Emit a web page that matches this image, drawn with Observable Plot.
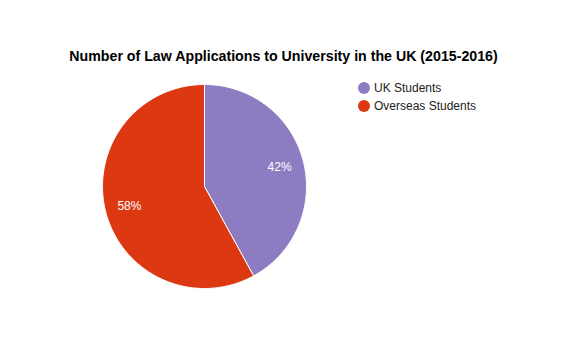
<!DOCTYPE html>
<html>
<head>
<meta charset="utf-8">
<script src="https://cdn.jsdelivr.net/npm/d3@7"></script>
<script src="https://cdn.jsdelivr.net/npm/@observablehq/plot@0.6"></script>
<style>
  body { margin: 0; background: #fff; font-family: Arial, "Liberation Sans", sans-serif; }
  #wrap { position: relative; width: 567px; height: 344px; overflow: hidden; }
  #title { height: 75px; width: 567px; box-sizing: border-box; padding-top: 48px; padding-left: 0px;
           text-align: center; font-weight: bold; font-size: 14.2px; color: #000; line-height: 17px; }
  #legend { position: absolute; left: 358px; top: 81px; font-size: 12px; color: #222; }
  .item { position: relative; height: 18px; line-height: 14px; }
  .sw { position: absolute; left: 0; top: 1px; width: 12px; height: 12px; border-radius: 50%; }
  .lab { position: absolute; left: 16px; top: 0; white-space: nowrap; }
  svg { display: block; }
</style>
</head>
<body>
<div id="wrap">
  <div id="title"></div>
  <div id="chart"></div>
  <div id="legend"></div>
</div>
<script>
const title = "Number of Law Applications to University in the UK (2015-2016)";
const categories = ["UK Students", "Overseas Students"];
const shares = [42, 58];
const pctLabels = ["42%", "58%"];
const colors = ["#8e7cc3", "#dc3912"];

document.getElementById("title").textContent = title;

const total = d3.sum(shares);
const pts = [];
const labelPts = [];
let start = 0;
shares.forEach((v, i) => {
  const a0 = start / total * 2 * Math.PI;
  const a1 = (start + v) / total * 2 * Math.PI;
  const k = categories[i];
  pts.push({k, x: 0, y: 0});
  const n = Math.max(2, Math.ceil((a1 - a0) / (Math.PI / 180)));
  for (let j = 0; j <= n; j++) {
    const a = a0 + (a1 - a0) * j / n;
    pts.push({k, x: Math.sin(a), y: Math.cos(a)});
  }
  pts.push({k, x: 0, y: 0});
  const am = (a0 + a1) / 2;
  labelPts.push({k, x: 0.76 * Math.sin(am), y: 0.76 * Math.cos(am), t: pctLabels[i]});
  start += v;
});

const cx = 204, cy = 111, r = 102;
const chart = Plot.plot({
  width: 567,
  height: 269,
  margin: 0,
  x: {domain: [-1, 1], range: [cx - r, cx + r], axis: null},
  y: {domain: [-1, 1], range: [cy + r, cy - r], axis: null},
  color: {domain: categories, range: colors},
  style: {fontFamily: "Arial, 'Liberation Sans', sans-serif", background: "transparent"},
  marks: [
    Plot.line(pts, {x: "x", y: "y", z: "k", fill: "k", stroke: "white", strokeWidth: 1, curve: "linear"}),
    Plot.text(labelPts, {x: "x", y: "y", text: "t", fill: "white", fontSize: 12})
  ]
});
document.getElementById("chart").appendChild(chart);

const legend = document.getElementById("legend");
categories.forEach((c, i) => {
  const item = document.createElement("div");
  item.className = "item";
  const sw = document.createElement("span");
  sw.className = "sw";
  sw.style.background = colors[i];
  const lab = document.createElement("span");
  lab.className = "lab";
  lab.textContent = c;
  item.appendChild(sw);
  item.appendChild(lab);
  legend.appendChild(item);
});
</script>
</body>
</html>
